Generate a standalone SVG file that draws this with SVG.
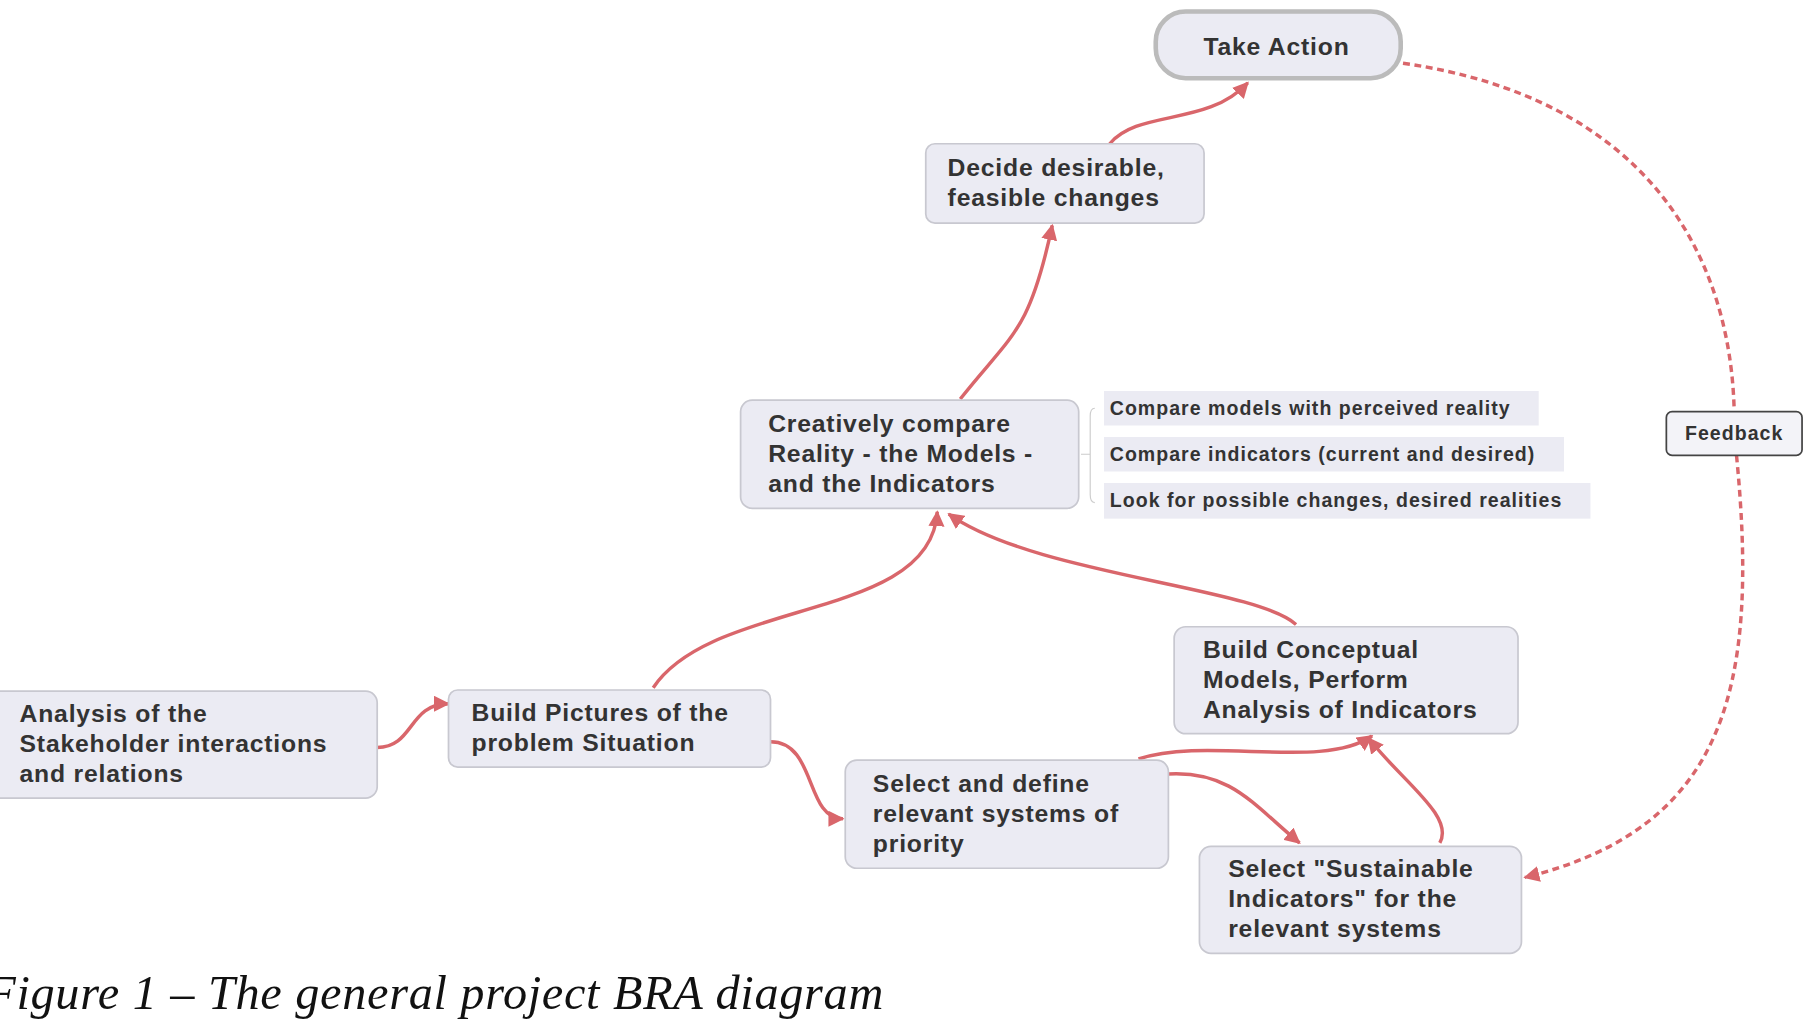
<svg xmlns="http://www.w3.org/2000/svg" width="1803" height="1033" viewBox="0 0 1803 1033">
<style>
.n{fill:#ebebf3;stroke:#c8c8d0;stroke-width:1.5}
.t{font-family:"Liberation Sans",Arial,sans-serif;font-weight:bold;font-size:21.5px;letter-spacing:0.7px;fill:#333}
.s{font-family:"Liberation Sans",Arial,sans-serif;font-weight:bold;font-size:17px;letter-spacing:0.9px;fill:#333}
.c{fill:none;stroke:#d9666b;stroke-width:3}
.lb{fill:#ebebf3}
</style>
<defs>
<marker id="a" viewBox="0 0 10 10" refX="9" refY="5" markerWidth="14" markerHeight="14" markerUnits="userSpaceOnUse" orient="auto"><path d="M0,0L10,5L0,10z" fill="#d9666b"/></marker>
</defs>
<rect width="1803" height="1033" fill="#fff"/>
<g transform="scale(1.15)">
<g id="connectors">
<path class="c" marker-end="url(#a)" d="M328,650 C360,650 355,612 390,612"/>
<path class="c" marker-end="url(#a)" d="M568,598 C620,520 810,540 815,445"/>
<path class="c" marker-end="url(#a)" d="M1127,543 C1090,510 900,500 825,447"/>
<path class="c" marker-end="url(#a)" d="M670,645 C710,645 700,712 733,712"/>
<path class="c" marker-end="url(#a)" d="M990,660 C1050,640 1150,670 1193,640"/>
<path class="c" marker-end="url(#a)" d="M1016,673 C1070,670 1090,700 1130,733"/>
<path class="c" marker-end="url(#a)" d="M1252,733 C1265,710 1220,680 1190,642"/>
<path class="c" marker-end="url(#a)" d="M835,347 C880,290 895,290 915,196"/>
<path class="c" marker-end="url(#a)" d="M965,125 C990,95 1050,110 1085,72"/>
<path class="c" stroke-width="2" stroke-dasharray="6,4" d="M1220,55 C1430,85 1505,220 1508,358"/>
<path class="c" stroke-width="2" stroke-dasharray="6,4" marker-end="url(#a)" d="M1510,396 C1530,600 1500,720 1326,763"/>
<path fill="none" stroke="#ccc" stroke-width="1" d="M952,355 Q948,355 948,362 L948,430 Q948,437 952,437 M940,395 L948,395"/>
</g>
<g id="take-action"><rect x="1005" y="10" width="213" height="58" rx="26" fill="#ebebf3" stroke="#bbb" stroke-width="4"/><text class="t" x="1110" y="48" font-size="26" text-anchor="middle">Take Action</text></g>
<g id="decide"><rect class="n" x="805" y="125" width="242" height="69" rx="8"/><text class="t" x="824" y="153">Decide desirable,</text><text class="t" x="824" y="179">feasible changes</text></g>
<g id="compare"><rect class="n" x="644" y="348" width="294" height="94" rx="10"/><text class="t" x="668" y="376">Creatively compare</text><text class="t" x="668" y="402">Reality - the Models -</text><text class="t" x="668" y="428">and the Indicators</text></g>
<g id="sub1"><rect class="lb" x="960" y="340" width="378" height="30"/><text class="s" x="965" y="361">Compare models with perceived reality</text></g>
<g id="sub2"><rect class="lb" x="960" y="380" width="400" height="30"/><text class="s" x="965" y="401">Compare indicators (current and desired)</text></g>
<g id="sub3"><rect class="lb" x="960" y="420" width="423" height="31"/><text class="s" x="965" y="441">Look for possible changes, desired realities</text></g>
<g id="feedback"><rect x="1449" y="358" width="118" height="38" rx="5" fill="#f3f3f8" stroke="#444" stroke-width="1.5"/><text class="s" x="1508" y="383" text-anchor="middle">Feedback</text></g>
<g id="analysis"><rect class="n" x="-10" y="601" width="338" height="93" rx="10"/><text class="t" x="17" y="628">Analysis of the</text><text class="t" x="17" y="654">Stakeholder interactions</text><text class="t" x="17" y="680">and relations</text></g>
<g id="pictures"><rect class="n" x="390" y="600" width="280" height="67" rx="8"/><text class="t" x="410" y="627">Build Pictures of the</text><text class="t" x="410" y="653">problem Situation</text></g>
<g id="conceptual"><rect class="n" x="1021" y="545" width="299" height="93" rx="10"/><text class="t" x="1046" y="572">Build Conceptual</text><text class="t" x="1046" y="598">Models, Perform</text><text class="t" x="1046" y="624">Analysis of Indicators</text></g>
<g id="select-define"><rect class="n" x="735" y="661" width="281" height="94" rx="10"/><text class="t" x="759" y="689">Select and define</text><text class="t" x="759" y="715">relevant systems of</text><text class="t" x="759" y="741">priority</text></g>
<g id="sustainable"><rect class="n" x="1043" y="736" width="280" height="93" rx="10"/><text class="t" x="1068" y="763">Select "Sustainable</text><text class="t" x="1068" y="789">Indicators" for the</text><text class="t" x="1068" y="815">relevant systems</text></g>
<text x="-12" y="877" font-family="Liberation Serif,Times New Roman,serif" font-style="italic" font-size="42" letter-spacing="0.6" fill="#111">Figure 1 – The general project BRA diagram</text>
</g>
</svg>
